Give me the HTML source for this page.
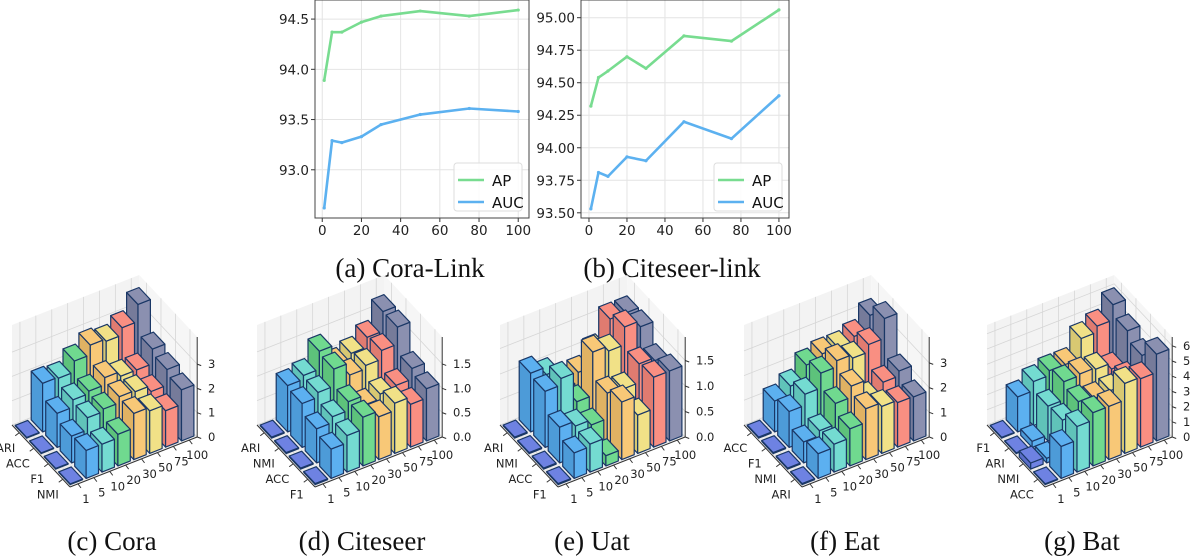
<!DOCTYPE html>
<html><head><meta charset="utf-8"><style>
html,body{margin:0;padding:0;background:#fff;}
svg{display:block;font-family:"DejaVu Sans","Liberation Sans",sans-serif;}
.cap{font-family:"Liberation Serif","DejaVu Serif",serif;font-size:27px;fill:#111;}
</style></head><body>
<svg id="fig" width="1200" height="556" viewBox="0 0 1200 556" xmlns="http://www.w3.org/2000/svg">
<text class="cap" x="410" y="277" text-anchor="middle">(a) Cora-Link</text>
<text class="cap" x="672" y="277" text-anchor="middle">(b) Citeseer-link</text>
<text class="cap" x="112" y="550" text-anchor="middle">(c) Cora</text>
<text class="cap" x="362" y="550" text-anchor="middle">(d) Citeseer</text>
<text class="cap" x="592" y="550" text-anchor="middle">(e) Uat</text>
<text class="cap" x="845" y="550" text-anchor="middle">(f) Eat</text>
<text class="cap" x="1082" y="550" text-anchor="middle">(g) Bat</text>
</svg>
<script>
// ---- line chart data ----
const xVals = [1,5,10,20,30,50,75,100];
const xTicks = [0,20,40,60,80,100];
const coraAP = [93.89,94.37,94.37,94.47,94.53,94.58,94.53,94.59];
const coraAUC = [92.62,93.29,93.27,93.33,93.45,93.55,93.61,93.58];
const coraYTicks = [93.0,93.5,94.0,94.5];
const citeAP = [94.32,94.54,94.59,94.70,94.61,94.86,94.82,95.06];
const citeAUC = [93.53,93.81,93.78,93.93,93.90,94.20,94.07,94.40];
const citeYTicks = [93.50,93.75,94.00,94.25,94.50,94.75,95.00];
// ---- 3D bar data (rows listed back -> front, columns = xCats) ----
const xCats = ["1","5","10","20","30","50","75","100"];
const coraRows = ["ARI","ACC","F1","NMI"];
const coraBars = [
 [0.03,2.0,1.95,2.4,2.8,2.7,3.0,3.7],
 [0.03,1.4,1.7,1.8,2.1,1.9,1.9,2.5],
 [0.03,1.1,1.6,1.7,1.95,1.9,1.65,2.3],
 [0.03,1.15,1.15,1.3,1.9,1.75,1.5,2.1]];
const citeRows = ["ARI","NMI","ACC","F1"];
const citeBars = [
 [0.02,0.95,1.03,1.4,1.0,1.1,1.3,1.7],
 [0.02,0.9,1.0,1.35,1.1,1.17,1.35,1.7],
 [0.02,0.7,0.82,1.0,0.8,0.9,0.95,1.17],
 [0.02,0.6,0.75,1.0,0.88,1.03,0.88,1.07]];
const uatRows = ["ARI","NMI","ACC","F1"];
const uatBars = [
 [0.02,1.15,1.0,0.6,0.8,1.1,1.6,1.6],
 [0.02,1.1,1.23,0.65,1.5,1.4,1.75,1.63],
 [0.02,0.7,0.6,0.5,1.0,0.96,1.33,1.27],
 [0.02,0.5,0.55,0.2,1.13,0.75,1.37,1.37]];
const eatRows = ["ACC","F1","NMI","ARI"];
const eatBars = [
 [0.04,1.25,1.6,2.2,2.4,2.4,2.6,3.2],
 [0.04,1.45,1.9,2.5,2.75,2.6,2.9,3.7],
 [0.04,0.85,1.05,1.9,2.35,1.6,2.0,2.2],
 [0.04,1.0,1.13,1.5,2.06,1.9,1.8,1.78]];
const batRows = ["F1","ARI","NMI","ACC"];
const batBars = [
 [0.05,2.3,2.9,3.2,3.2,4.5,4.9,5.9],
 [0.05,0.4,2.3,3.5,3.6,3.5,3.1,5.2],
 [0.4,0.3,2.4,3.2,3.0,3.1,3.5,4.6],
 [0.05,2.1,3.0,3.5,3.5,4.6,4.5,5.7]];

const NS="http://www.w3.org/2000/svg";
const svg=document.getElementById('fig');
function mk(tag,attrs,parent){const e=document.createElementNS(NS,tag);for(const k in attrs)e.setAttribute(k,attrs[k]);(parent||svg).appendChild(e);return e;}

function lineChart(id,box,xDom,yDom,yTicks,yFmt,ap,auc,legBox){
  const g=mk('g',{});
  
  
  const xs=v=>box.x0+(v-xDom[0])/(xDom[1]-xDom[0])*(box.x1-box.x0);
  const ys=v=>box.y1-(v-yDom[0])/(yDom[1]-yDom[0])*(box.y1-box.y0);
  xTicks.forEach(t=>{
    const l=mk('line',{x1:xs(t),x2:xs(t),y1:box.y0,y2:box.y1,stroke:'#e4e4e4','stroke-width':1},g);
    
    mk('line',{x1:xs(t),x2:xs(t),y1:box.y1,y2:box.y1+4,stroke:'#333'},g);
    const tx=mk('text',{x:xs(t),y:box.y1+17,'text-anchor':'middle','font-size':13.5,fill:'#222'},g);
    tx.textContent=t;
  });
  yTicks.forEach(t=>{
    const l=mk('line',{x1:box.x0,x2:box.x1,y1:ys(t),y2:ys(t),stroke:'#e4e4e4','stroke-width':1},g);
    
    mk('line',{x1:box.x0-4,x2:box.x0,y1:ys(t),y2:ys(t),stroke:'#333'},g);
    const tx=mk('text',{x:box.x0-6,y:ys(t)+5,'text-anchor':'end','font-size':13.5,fill:'#222'},g);
    tx.textContent=t.toFixed(yFmt);
  });
  const r=mk('rect',{x:box.x0,y:box.y0,width:box.x1-box.x0,height:box.y1-box.y0,fill:'none',stroke:'#444','stroke-width':1},g);
  
  [[ap,'#78dc90','ap'],[auc,'#5cb1f0','auc']].forEach(([d,c,n])=>{
    const p=mk('polyline',{points:d.map((v,i)=>xs(xVals[i])+','+ys(v)).join(' '),fill:'none',stroke:c,'stroke-width':2.6,'stroke-linejoin':'round'},g);
    
    d.forEach((v,i)=>{const m=mk('circle',{cx:xs(xVals[i]),cy:ys(v),r:1.6,fill:c},g);
      });
  });
  const lg=mk('g',{},g);
  mk('rect',{x:legBox.x,y:legBox.y,width:legBox.w,height:legBox.h,rx:3,fill:'#fff','fill-opacity':0.85,stroke:'#ddd'},lg);
  [['AP','#78dc90',legBox.y+17],['AUC','#5cb1f0',legBox.y+39]].forEach(([t,c,y])=>{
    const e=mk('g',{},lg);
    mk('line',{x1:legBox.x+4,x2:legBox.x+30,y1:y,y2:y,stroke:c,'stroke-width':2.6},e);
    const tx=mk('text',{x:legBox.x+38,y:y+6,'font-size':15,fill:'#111'},e);tx.textContent=t;
  });
}
lineChart('cora-link',{x0:315,x1:529,y0:0,y1:218},[-3.7,105.5],[92.52,94.69],coraYTicks,1,coraAP,coraAUC,{x:454,y:163,w:68,h:48});
lineChart('citeseer-link',{x0:581,x1:789,y0:0,y1:218},[-4.2,105.3],[93.46,95.136],citeYTicks,2,citeAP,citeAUC,{x:714,y:163,w:68,h:48});

const colColors=['#6e82e2','#5cb0f0','#74dbd1','#70d98f','#f8c877','#f1e187','#f98f82','#8b90b0'];
const colDark=['#5a6dc8','#4d9bd8','#60c3b9','#5dc27b','#e0b263','#d8c872','#e07b70','#767b9a'];
function bar3d(id,fx,s,zTicks,zFmt,rows,bars){
  const g=mk('g',{});
  
  
  const P=(c,r,z)=>[fx+15.9*c-14.5*r, 487-6.25*c-15.5*r-z*s];
  const PH=(c,r,hp)=>{const p=P(c,r,0);return [p[0],p[1]-hp];};
  const pts=a=>a.map(p=>p[0].toFixed(1)+','+p[1].toFixed(1)).join(' ');
  const H=100;
  const fl=mk('polygon',{points:pts([P(0,0,0),P(8,0,0),P(8,4,0),P(0,4,0)]),fill:'#ececec'},g);
  
  const bw=mk('polygon',{points:pts([P(0,4,0),P(8,4,0),PH(8,4,H),PH(0,4,H)]),fill:'#f3f3f3'},g);
  
  const rw=mk('polygon',{points:pts([P(8,0,0),P(8,4,0),PH(8,4,H),PH(8,0,H)]),fill:'#f6f6f6'},g);
  
  const gl={stroke:'#d6d6d6','stroke-width':0.8};
  for(let c=0;c<8;c++){
    mk('line',Object.assign({x1:P(c+.5,4,0)[0],y1:P(c+.5,4,0)[1],x2:PH(c+.5,4,H)[0],y2:PH(c+.5,4,H)[1]},gl),g);
    mk('line',Object.assign({x1:P(c+.5,0,0)[0],y1:P(c+.5,0,0)[1],x2:P(c+.5,4,0)[0],y2:P(c+.5,4,0)[1]},gl),g);
  }
  for(let r=0;r<4;r++){
    mk('line',Object.assign({x1:P(8,r+.5,0)[0],y1:P(8,r+.5,0)[1],x2:PH(8,r+.5,H)[0],y2:PH(8,r+.5,H)[1]},gl),g);
    mk('line',Object.assign({x1:P(0,r+.5,0)[0],y1:P(0,r+.5,0)[1],x2:P(8,r+.5,0)[0],y2:P(8,r+.5,0)[1]},gl),g);
  }
  zTicks.forEach(t=>{
    if(t*s>H)return;
    const a=P(0,4,t),b=P(8,4,t),c2=P(8,0,t);
    mk('polyline',Object.assign({points:pts([a,b,c2]),fill:'none'},gl),g);
    mk('line',{x1:c2[0],y1:c2[1],x2:c2[0]+4,y2:c2[1]+1.5,stroke:'#333','stroke-width':1},g);
    const tx=mk('text',{x:fx+138,y:c2[1]+4,'font-size':11.5,fill:'#222'},g);
    tx.textContent=t.toFixed(zFmt);
    
  });
  const za=mk('line',{x1:P(8,0,0)[0],y1:P(8,0,0)[1],x2:PH(8,0,H)[0],y2:PH(8,0,H)[1],stroke:'#333','stroke-width':1},g);
  
  const xa=mk('line',{x1:P(0,0,0)[0],y1:P(0,0,0)[1],x2:P(8,0,0)[0],y2:P(8,0,0)[1],stroke:'#333','stroke-width':1},g);
  
  const ya=mk('line',{x1:P(0,0,0)[0],y1:P(0,0,0)[1],x2:P(0,4,0)[0],y2:P(0,4,0)[1],stroke:'#333','stroke-width':1},g);
  
  xCats.forEach((t,c)=>{
    const p=P(c+.5,0,0);
    mk('line',{x1:p[0],y1:p[1],x2:p[0]+3,y2:p[1]+4,stroke:'#333'},g);
    const tx=mk('text',{x:p[0]+8,y:p[1]+19,'text-anchor':'middle','font-size':11.5,fill:'#222'},g);
    tx.textContent=t;
  });
  rows.forEach((t,i)=>{
    const p=P(0,3-i+.5,0);
    mk('line',{x1:p[0],y1:p[1],x2:p[0]-4,y2:p[1]+3,stroke:'#333'},g);
    const tx=mk('text',{x:p[0]-4,y:p[1]+19,'text-anchor':'end','font-size':11.5,fill:'#222'},g);
    tx.textContent=t;
  });
  const list=[];
  bars.forEach((row,i)=>row.forEach((h,c)=>list.push({c,r:3-i,h,row:rows[i]})));
  list.sort((a,b)=>(b.c+b.r)-(a.c+a.r)||(b.r-a.r));
  const w=0.78;
  list.forEach(b=>{
    const c0=b.c+.5-w/2,c1=b.c+.5+w/2,r0=b.r+.5-w/2,r1=b.r+.5+w/2,h=b.h;
    const bg=mk('g',{stroke:'#1a3766','stroke-width':1.2,'stroke-linejoin':'round'},g);
    
    
    mk('polygon',{points:pts([P(c0,r0,0),P(c0,r1,0),P(c0,r1,h),P(c0,r0,h)]),fill:colDark[b.c]},bg);
    mk('polygon',{points:pts([P(c0,r0,0),P(c1,r0,0),P(c1,r0,h),P(c0,r0,h)]),fill:colColors[b.c]},bg);
    mk('polygon',{points:pts([P(c0,r0,h),P(c1,r0,h),P(c1,r1,h),P(c0,r1,h)]),fill:colColors[b.c]},bg);
  });
}
bar3d('cora',70,24.3,[0,1,2,3],0,coraRows,coraBars);
bar3d('citeseer',315,48.7,[0,0.5,1.0,1.5],1,citeRows,citeBars);
bar3d('uat',558,51,[0,0.5,1.0,1.5],1,uatRows,uatBars);
bar3d('eat',802,24.7,[0,1,2,3],0,eatRows,eatBars);
bar3d('bat',1045,15.2,[0,1,2,3,4,5,6],0,batRows,batBars);
</script>
</body></html>
